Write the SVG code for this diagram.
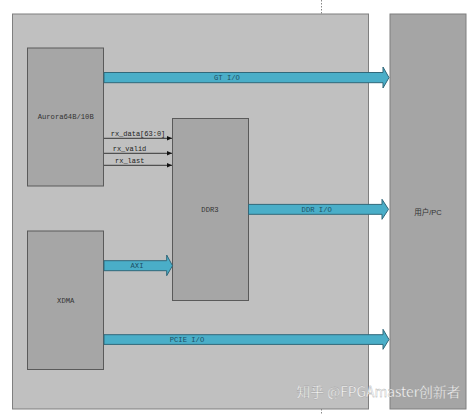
<svg xmlns="http://www.w3.org/2000/svg" width="474" height="415" viewBox="0 0 474 415">
<style>
.box{fill:#a6a6a6;stroke:#5a5a5a;stroke-width:1}
.lbl{font-family:"Liberation Mono","DejaVu Sans Mono",monospace;font-size:7.2px;fill:#333;text-anchor:middle}
.fat{fill:#4aaec8;stroke:#31687a;stroke-width:1}
.flbl{font-family:"Liberation Mono","DejaVu Sans Mono",monospace;font-size:7.2px;fill:#1d4f63;text-anchor:middle}
.thin{stroke:#111;stroke-width:0.8;fill:none}
.sig{font-family:"Liberation Mono","DejaVu Sans Mono",monospace;font-size:7px;fill:#222}
</style>
<defs>
<marker id="ah" markerWidth="6" markerHeight="6" refX="5" refY="3" orient="auto" markerUnits="userSpaceOnUse">
<path d="M0,0.8 L5,3 L0,5.2 Z" fill="#111"/>
</marker>
</defs>
<rect width="474" height="415" fill="#ffffff"/>
<line x1="321.5" y1="0" x2="321.5" y2="14" stroke="#888" stroke-width="1" stroke-dasharray="1.5,1.5"/>
<line x1="321.5" y1="409" x2="321.5" y2="415" stroke="#888" stroke-width="1" stroke-dasharray="1.5,1.5"/>
<g id="fpga">
<rect x="12.5" y="14" width="356" height="395" fill="#c0c0c0" stroke="#7f7f7f" stroke-width="1"/>
</g>
<g id="user">
<rect x="390" y="14" width="76" height="395" fill="#a5a5a5" stroke="#7f7f7f" stroke-width="1"/>
<text x="428" y="215" class="lbl" style="font-family:'Liberation Sans','Noto Sans CJK SC',sans-serif;font-size:7.5px">用户/PC</text>
</g>
<g id="aurora">
<rect class="box" x="27.5" y="48" width="76" height="138"/>
<text class="lbl" x="65.7" y="119">Aurora64B/10B</text>
</g>
<g id="ddr3">
<rect class="box" x="172.5" y="118.5" width="76" height="182"/>
<text class="lbl" x="210" y="212">DDR3</text>
</g>
<g id="xdma">
<rect class="box" x="27.5" y="231" width="76" height="138.5"/>
<text class="lbl" x="65.7" y="303">XDMA</text>
</g>
<g id="connectors">
<polygon class="fat" points="104,72.5 383,72.5 383,67 389,77.6 383,88 383,82.7 104,82.7"/>
<text class="flbl" x="227" y="80">GT I/O</text>
<polygon class="fat" points="248.5,204.4 382,204.4 382,199.3 388.5,209.3 382,219.3 382,214.3 248.5,214.3"/>
<text class="flbl" x="316.7" y="212">DDR I/O</text>
<polygon class="fat" points="104,260.7 166.7,260.7 166.7,255 172.5,265.7 166.7,275.7 166.7,270.7 104,270.7"/>
<text class="flbl" x="137" y="268.3">AXI</text>
<polygon class="fat" points="104,334.7 383,334.7 383,329.3 389,339.5 383,349.3 383,344.4 104,344.4"/>
<text class="flbl" x="187" y="342.2">PCIE I/O</text>
<line class="thin" x1="104" y1="138.3" x2="172" y2="138.3" marker-end="url(#ah)"/>
<line class="thin" x1="104" y1="153.3" x2="172" y2="153.3" marker-end="url(#ah)"/>
<line class="thin" x1="104" y1="165.3" x2="172" y2="165.3" marker-end="url(#ah)"/>
<text class="sig" x="110.7" y="136.2">rx_data[63:0]</text>
<text class="sig" x="112.7" y="151">rx_valid</text>
<text class="sig" x="115" y="162.8">rx_last</text>
</g>
<text x="296.5" y="397" textLength="164" lengthAdjust="spacingAndGlyphs" style="font-family:'Noto Sans CJK SC','Noto Sans',sans-serif;font-size:14px;fill:#ffffff;stroke:#9a9a9a;stroke-width:0.3;opacity:0.95">知乎 @FPGAmaster创新者</text>
</svg>
